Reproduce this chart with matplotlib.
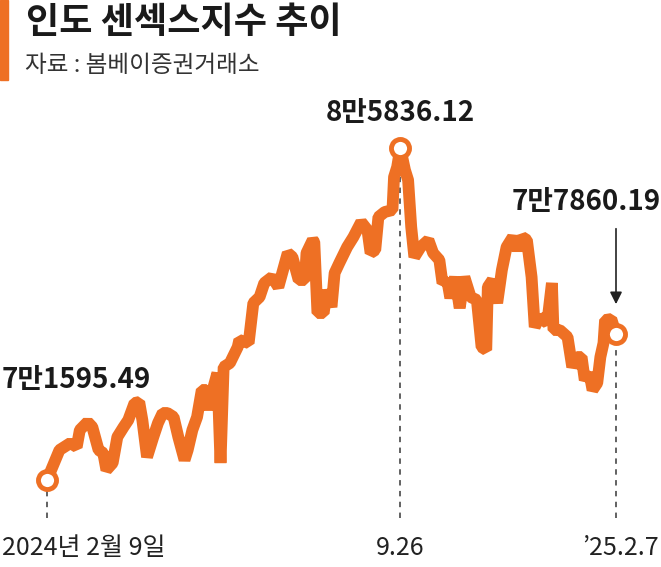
import numpy as np
import matplotlib
matplotlib.use('Agg')
import matplotlib.pyplot as plt
from matplotlib.patches import Rectangle

plt.rcParams['font.family'] = ['Noto Sans CJK KR', 'DejaVu Sans']

# Sensex closing levels, day offsets from 2024-02-09
days = [0, 8, 15, 19, 21, 26, 29, 33, 36, 38,
        42, 45, 49, 52, 56, 59, 61, 64, 68, 71,
        74, 77, 81, 84, 88, 90, 93, 96, 99, 102,
        104, 106, 109, 111, 113, 117, 122, 123, 129, 132,
        136, 139, 144, 148, 151, 154, 157, 161, 165, 166,
        170, 171, 173, 177, 179, 182, 184, 187, 192, 196,
        201, 205, 207, 210, 212, 216, 221, 222, 224, 226,
        229, 231, 233, 235, 239, 244, 247, 251, 253, 256,
        258, 261, 264, 267, 271, 275, 278, 281, 282, 285,
        288, 291, 294, 298, 301, 304, 307, 310, 312, 315,
        320, 323, 324, 328, 333, 336, 339, 342, 344, 347,
        349, 352, 354, 356, 357, 361, 364]
sensex = [71595.49, 72882, 73182, 73010, 73740, 74083, 73868, 72882, 72753, 72024,
          72324, 73440, 73868, 74169, 74898, 74940, 74169, 72582, 73440, 74040,
          74469, 74469, 74297, 73440, 72453, 72882, 73740, 74297, 75456, 75456,
          74598, 75456, 76184, 72324, 76442, 76613, 77299, 77600, 77471, 79187,
          79444, 80044, 80302, 79873, 80602, 81331, 81159, 80173, 80173, 81331,
          81889, 81803, 78758, 78758, 79744, 79015, 80473, 80902, 81588, 82017,
          82661, 82318, 81331, 81460, 82875, 83090, 83175, 84591, 85020, 85836.12,
          84891, 84462, 82446, 81159, 81588, 81889, 81331, 81031, 80044, 80173,
          79401, 80302, 78972, 80302, 79444, 79315, 77299, 77171, 79873, 80173,
          79187, 80602, 81588, 82017, 81460, 82017, 81889, 80302, 78157, 78586,
          78329, 80044, 78029, 78029, 77728, 76442, 76870, 76870, 75884, 76184,
          75456, 75755, 76870, 77471, 78457, 78500, 77860.19]
point_labels = ['7만1595.49', '8만5836.12', '7만7860.19']
date_labels = ['2024년 2월 9일', '9.26', '\u201925.2.7']

ORANGE = '#EE7024'
W, H = 661, 567
fig = plt.figure(figsize=(W/100, H/100), dpi=100)

# title block
fig.patches.append(Rectangle((0, 1-80/H), 8/W, 80/H, transform=fig.transFigure,
                             color=ORANGE, zorder=3))
fig.text(26/W, 1-22/H, '인도 센섹스지수 추이', fontsize=26, fontweight='black',
         color='#1a1a1a', va='center', ha='left')
fig.text(25/W, 1-66/H, '자료 : 봄베이증권거래소', fontsize=17, color='#333333',
         va='center', ha='left')

ax = fig.add_axes([47/W, 1-480/H, 569/W, 332/H])
ax.set_xlim(0, days[-1])
ax.set_ylim(min(sensex), max(sensex))
ax.axis('off')
px_x = days[-1]/569                      # days per pixel
px_y = (max(sensex)-min(sensex))/332     # points per pixel

ax.plot(days, sensex, color=ORANGE, lw=8.5, solid_joinstyle='bevel',
        solid_capstyle='butt', clip_on=False, zorder=3)

ipk = int(np.argmax(sensex))
keys = [0, ipk, len(days)-1]
ax.plot([days[i] for i in keys], [sensex[i] for i in keys], 'o', ms=13, mfc='white',
        mec=ORANGE, mew=3.5, clip_on=False, zorder=4)

# dashed guides down to the date labels
tr = ax.get_xaxis_transform()
ymin, ymax = ax.get_ylim()
for i in keys:
    frac = (sensex[i]-ymin)/(ymax-ymin)
    ax.plot([days[i], days[i]], [-0.113, frac-0.025], transform=tr, color='#555555',
            lw=1.3, dashes=(3, 3), clip_on=False, zorder=2)

fs_num = 20
ax.text(-45*px_x, sensex[0] + 100*px_y, point_labels[0],
        fontsize=fs_num, fontweight='bold', color='#1a1a1a', ha='left', va='center')
ax.text(days[ipk], sensex[ipk] + 35*px_y, point_labels[1], fontsize=fs_num,
        fontweight='bold', color='#1a1a1a', ha='center', va='center')
ax.text(days[-1] + 45*px_x, sensex[-1] + 132*px_y, point_labels[2], fontsize=fs_num,
        fontweight='bold', color='#1a1a1a', ha='right', va='center')
ax.annotate('', xy=(days[-1], sensex[-1] + 27*px_y), xytext=(days[-1], sensex[-1] + 108*px_y),
            arrowprops=dict(arrowstyle='-|>', color='#222222', lw=1.2, mutation_scale=18),
            annotation_clip=False)

fig.text(2/W, 1-548/H, date_labels[0], fontsize=18, color='#222222', ha='left', va='center')
fig.text((47 + days[ipk]/px_x)/W, 1-548/H, date_labels[1], fontsize=18,
         color='#222222', ha='center', va='center')
fig.text(659/W, 1-548/H, date_labels[2], fontsize=18, color='#222222', ha='right', va='center')

fig.savefig('out.png', dpi=100)
